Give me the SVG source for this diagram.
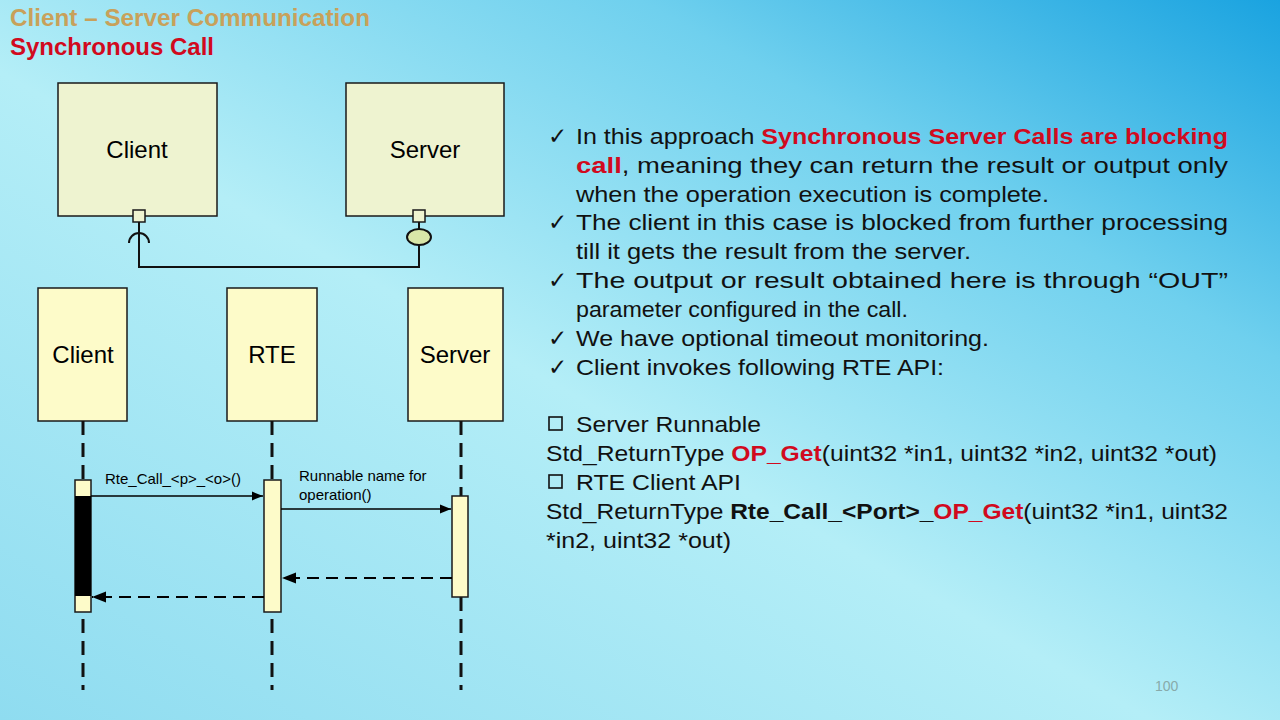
<svg xmlns="http://www.w3.org/2000/svg" width="1280" height="720" viewBox="0 0 1280 720">
<defs>
<linearGradient id="bg" x1="0" y1="1" x2="1" y2="0">
<stop offset="0" stop-color="#8fdcf0"/><stop offset="0.45" stop-color="#b4eef7"/><stop offset="0.75" stop-color="#6fd0ee"/><stop offset="1" stop-color="#1aa3e0"/>
</linearGradient>
<marker id="ah" viewBox="0 0 10 10" refX="10" refY="5" markerWidth="7" markerHeight="7" orient="auto"><path d="M0,1 L10,5 L0,9 z" fill="#000"/></marker>
<style>
.t{font-family:"Liberation Sans",Arial,sans-serif}
.box{fill:#eef3d0;stroke:#1a1a1a;stroke-width:1.5}
.lbox{fill:#fdfbc9;stroke:#1a1a1a;stroke-width:1.5}
.life{stroke:#111;stroke-width:3;stroke-dasharray:14 8}
.msg{stroke:#000;stroke-width:1.6;fill:none}
.ret{stroke:#000;stroke-width:2;stroke-dasharray:12 7;fill:none}
.b{font-size:22.5px;fill:#111}
.red{fill:#d10a1e;font-weight:bold}
</style>
</defs>
<rect width="1280" height="720" fill="url(#bg)"/>
<text class="t" x="10" y="26" font-size="24" font-weight="bold" fill="#c8a15a" textLength="360" lengthAdjust="spacingAndGlyphs">Client – Server Communication</text>
<text class="t" x="10" y="55" font-size="24" font-weight="bold" fill="#d10a1e" textLength="204" lengthAdjust="spacingAndGlyphs">Synchronous Call</text>

<g id="clientTop"><rect class="box" x="58" y="83" width="159" height="133"/><text class="t" x="137" y="158" font-size="24" text-anchor="middle">Client</text></g>
<g id="serverTop"><rect class="box" x="346" y="83" width="158" height="133"/><text class="t" x="425" y="158" font-size="24" text-anchor="middle">Server</text></g>
<g id="ports">
<rect class="box" x="133" y="210" width="12" height="12"/>
<rect class="box" x="413" y="210" width="12" height="12"/>
<path d="M129,243 A10,10 0 0 1 149,243" fill="none" stroke="#111" stroke-width="2"/>
<line x1="419" y1="222" x2="419" y2="229" stroke="#111" stroke-width="2"/>
<ellipse cx="419" cy="237" rx="12" ry="8" fill="#d9e6a8" stroke="#111" stroke-width="2"/>
</g>

<g id="clientLife"><rect class="lbox" x="38" y="288" width="89" height="133"/><text class="t" x="83" y="363" font-size="24" text-anchor="middle">Client</text><line class="life" x1="83" y1="421" x2="83" y2="690"/></g>
<g id="rteLife"><rect class="lbox" x="227" y="288" width="90" height="133"/><text class="t" x="272" y="363" font-size="24" text-anchor="middle">RTE</text><line class="life" x1="272" y1="421" x2="272" y2="690"/></g>
<g id="serverLife"><rect class="lbox" x="408" y="288" width="95" height="133"/><text class="t" x="455" y="363" font-size="24" text-anchor="middle">Server</text><line class="life" x1="461" y1="421" x2="461" y2="690"/></g>

<g id="activations">
<rect class="lbox" x="75" y="480" width="16" height="132"/>
<rect x="75" y="496" width="16" height="100" fill="#000"/>
<rect class="lbox" x="264" y="480" width="17" height="132"/>
<rect class="lbox" x="452" y="496" width="16" height="101"/>
</g>

<g id="connectors">
<path d="M139,222 V267 H419 V245" fill="none" stroke="#111" stroke-width="2"/>
<line class="msg" x1="91" y1="496" x2="263" y2="496" marker-end="url(#ah)"/>
<line class="msg" x1="281" y1="509" x2="451" y2="509" marker-end="url(#ah)"/>
<line class="ret" x1="452" y1="578" x2="282" y2="578" marker-end="url(#ah)"/>
<line class="ret" x1="264" y1="597" x2="92" y2="597" marker-end="url(#ah)"/>
<text class="t" x="105" y="484" font-size="15">Rte_Call_&lt;p&gt;_&lt;o&gt;()</text>
<text class="t" x="299" y="481" font-size="15">Runnable name for</text>
<text class="t" x="299" y="500" font-size="15">operation()</text>
</g>

<g id="text" class="t b">
<text x="548" y="144">✓</text><text x="576" y="144" textLength="652" lengthAdjust="spacingAndGlyphs">In this approach <tspan class="red">Synchronous Server Calls are blocking</tspan></text>
<text x="576" y="173" textLength="652" lengthAdjust="spacingAndGlyphs"><tspan class="red">call</tspan>, meaning they can return the result or output only</text>
<text x="576" y="202" textLength="473" lengthAdjust="spacingAndGlyphs">when the operation execution is complete.</text>
<text x="548" y="230">✓</text><text x="576" y="230" textLength="652" lengthAdjust="spacingAndGlyphs">The client in this case is blocked from further processing</text>
<text x="576" y="259" textLength="395" lengthAdjust="spacingAndGlyphs">till it gets the result from the server.</text>
<text x="548" y="288">✓</text><text x="576" y="288" textLength="652" lengthAdjust="spacingAndGlyphs">The output or result obtained here is through “OUT”</text>
<text x="576" y="317" textLength="332" lengthAdjust="spacingAndGlyphs">parameter configured in the call.</text>
<text x="548" y="346">✓</text><text x="576" y="346" textLength="413" lengthAdjust="spacingAndGlyphs">We have optional timeout monitoring.</text>
<text x="548" y="375">✓</text><text x="576" y="375" textLength="368" lengthAdjust="spacingAndGlyphs">Client invokes following RTE API:</text>
<rect x="549" y="417" width="13" height="13" fill="none" stroke="#111" stroke-width="1.6"/><text x="576" y="432" textLength="185" lengthAdjust="spacingAndGlyphs">Server Runnable</text>
<text x="546" y="461" textLength="671" lengthAdjust="spacingAndGlyphs">Std_ReturnType <tspan class="red">OP_Get</tspan>(uint32 *in1, uint32 *in2, uint32 *out)</text>
<rect x="549" y="475" width="13" height="13" fill="none" stroke="#111" stroke-width="1.6"/><text x="576" y="490" textLength="165" lengthAdjust="spacingAndGlyphs">RTE Client API</text>
<text x="546" y="519" textLength="682" lengthAdjust="spacingAndGlyphs">Std_ReturnType <tspan font-weight="bold">Rte_Call_&lt;Port&gt;_</tspan><tspan class="red">OP_Get</tspan>(uint32 *in1, uint32</text>
<text x="546" y="548" textLength="185" lengthAdjust="spacingAndGlyphs">*in2, uint32 *out)</text>
</g>
<text class="t" x="1155" y="691" font-size="14" fill="#8aa">100</text>
</svg>
